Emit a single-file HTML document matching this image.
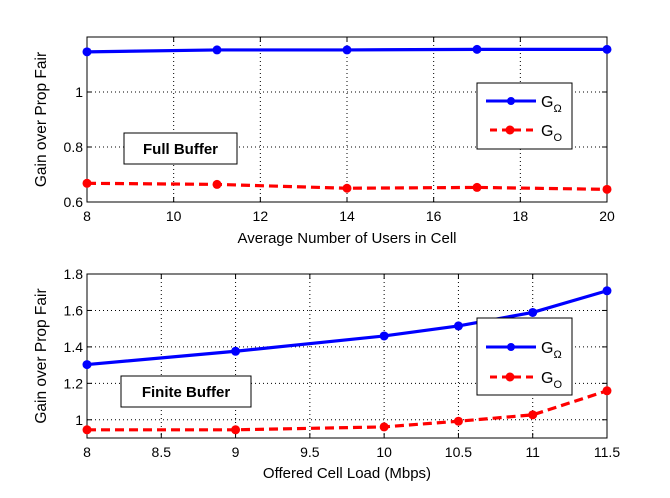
<!DOCTYPE html>
<html><head><meta charset="utf-8"><style>
body{margin:0;background:#fff;}
svg{display:block;font-family:"Liberation Sans",Arial,sans-serif;}
</style></head><body>
<svg id="c" width="670" height="498"></svg>
<script>
const topX=[8,11,14,17,20];
const topOmega=[1.146,1.153,1.153,1.155,1.155];
const topO=[0.668,0.664,0.650,0.653,0.646];
const topXTicks=[8,10,12,14,16,18,20];
const topYTicks=[0.6,0.8,1];
const botX=[8,9,10,10.5,11,11.5];
const botOmega=[1.303,1.376,1.460,1.515,1.589,1.708];
const botO=[0.945,0.945,0.961,0.992,1.027,1.159];
const botXTicks=[8,8.5,9,9.5,10,10.5,11,11.5];
const botYTicks=[1,1.2,1.4,1.6,1.8];

const svg=document.getElementById('c');
const NS='http://www.w3.org/2000/svg';
function mk(tag,attrs,parent){const e=document.createElementNS(NS,tag);for(const k in attrs)e.setAttribute(k,attrs[k]);(parent||svg).appendChild(e);return e;}

function panel(cfg){
  const g=mk('g',{});
  
  
  const L=87,R=607,T=cfg.top,B=cfg.bottom;
  const sx=v=>L+(v-cfg.xmin)/(cfg.xmax-cfg.xmin)*(R-L);
  const sy=v=>B-(v-cfg.ymin)/(cfg.ymax-cfg.ymin)*(B-T);
  mk('rect',{x:L,y:T,width:R-L,height:B-T,fill:'#fff'},g);
  cfg.xt.forEach(v=>{
    const x=sx(v);
    if(v!==cfg.xmin&&v!==cfg.xmax){const l=mk('line',{x1:x,x2:x,y1:T,y2:B,stroke:'#000','stroke-dasharray':'1,3','stroke-width':1},g);}
    mk('line',{x1:x,x2:x,y1:B,y2:B-5,stroke:'#000'},g);
    mk('line',{x1:x,x2:x,y1:T,y2:T+5,stroke:'#000'},g);
    const t=mk('text',{x:x,y:B+19,'text-anchor':'middle','font-size':14},g);t.textContent=v;
    
  });
  cfg.yt.forEach(v=>{
    const y=sy(v);
    if(v!==cfg.ymin&&v!==cfg.ymax){const l=mk('line',{x1:L,x2:R,y1:y,y2:y,stroke:'#000','stroke-dasharray':'1,3','stroke-width':1},g);}
    mk('line',{x1:L,x2:L+5,y1:y,y2:y,stroke:'#000'},g);
    mk('line',{x1:R,x2:R-5,y1:y,y2:y,stroke:'#000'},g);
    const t=mk('text',{x:L-4,y:y+5,'text-anchor':'end','font-size':14},g);t.textContent=v;
    
  });
  mk('rect',{x:L,y:T,width:R-L,height:B-T,fill:'none',stroke:'#000','stroke-width':1},g);
  function series(xs,ys,color,dash,name){
    const p=mk('polyline',{points:xs.map((x,i)=>sx(x)+','+sy(ys[i])).join(' '),fill:'none',stroke:color,'stroke-width':3.2,'stroke-dasharray':dash},g);
    
    xs.forEach((x,i)=>{const c=mk('circle',{cx:sx(x),cy:sy(ys[i]),r:4.5,fill:color},g);
      });
  }
  series(cfg.x,cfg.o,'#0000ff','none','g-omega');
  series(cfg.x,cfg.r,'#ff0000','9,5','g-o');
  const lb=mk('g',{},g);
  mk('rect',{x:cfg.bx,y:cfg.by,width:cfg.bw,height:cfg.bh,fill:'#fff',stroke:'#000'},lb);
  const bt=mk('text',{x:cfg.bx+cfg.bw/2,y:cfg.by+cfg.bh/2+5.5,'text-anchor':'middle','font-size':15,'font-weight':'bold'},lb);bt.textContent=cfg.label;
  const lg=mk('g',{},g);
  const ly=cfg.ly,e1=cfg.e1,e2=cfg.e2;
  mk('rect',{x:477,y:ly,width:95,height:cfg.lh,fill:'#fff',stroke:'#000'},lg);
  mk('line',{x1:486,x2:536,y1:ly+e1,y2:ly+e1,stroke:'#0000ff','stroke-width':3},lg);
  mk('circle',{cx:511,cy:ly+e1,r:4,fill:'#0000ff'},lg);
  mk('line',{x1:490,x2:536,y1:ly+e2,y2:ly+e2,stroke:'#ff0000','stroke-width':3,'stroke-dasharray':'7,5'},lg);
  mk('circle',{cx:510,cy:ly+e2,r:4.5,fill:'#ff0000'},lg);
  const t1=mk('text',{x:541,y:ly+e1+6,'font-size':16},lg);t1.innerHTML='G<tspan font-size="11" dy="5">Ω</tspan>';
  
  const t2=mk('text',{x:541,y:ly+e2+6,'font-size':16},lg);t2.innerHTML='G<tspan font-size="11" dy="5">O</tspan>';
  
  const xl=mk('text',{x:347,y:cfg.xly,'text-anchor':'middle','font-size':15},g);xl.textContent=cfg.xlabel;
  
  const cy=(T+B)/2;
  const yl=mk('text',{x:0,y:0,transform:`translate(46,${cy}) rotate(-90)`,'text-anchor':'middle','font-size':15.5},g);yl.textContent='Gain over Prop Fair';
  
}
panel({name:'full-buffer-plot',top:37,bottom:202,xmin:8,xmax:20,ymin:0.6,ymax:1.2,xt:topXTicks,yt:topYTicks,
  x:topX,o:topOmega,r:topO,bx:124,by:133,bw:113,bh:31,label:'Full Buffer',ly:83,lh:66,e1:18,e2:47,xlabel:'Average Number of Users in Cell',xly:243});
panel({name:'finite-buffer-plot',top:274,bottom:438,xmin:8,xmax:11.5,ymin:0.9,ymax:1.8,xt:botXTicks,yt:botYTicks,
  x:botX,o:botOmega,r:botO,bx:121,by:376,bw:130,bh:31,label:'Finite Buffer',ly:318,lh:77,e1:29,e2:59,xlabel:'Offered Cell Load (Mbps)',xly:478});
</script>
</body></html>
